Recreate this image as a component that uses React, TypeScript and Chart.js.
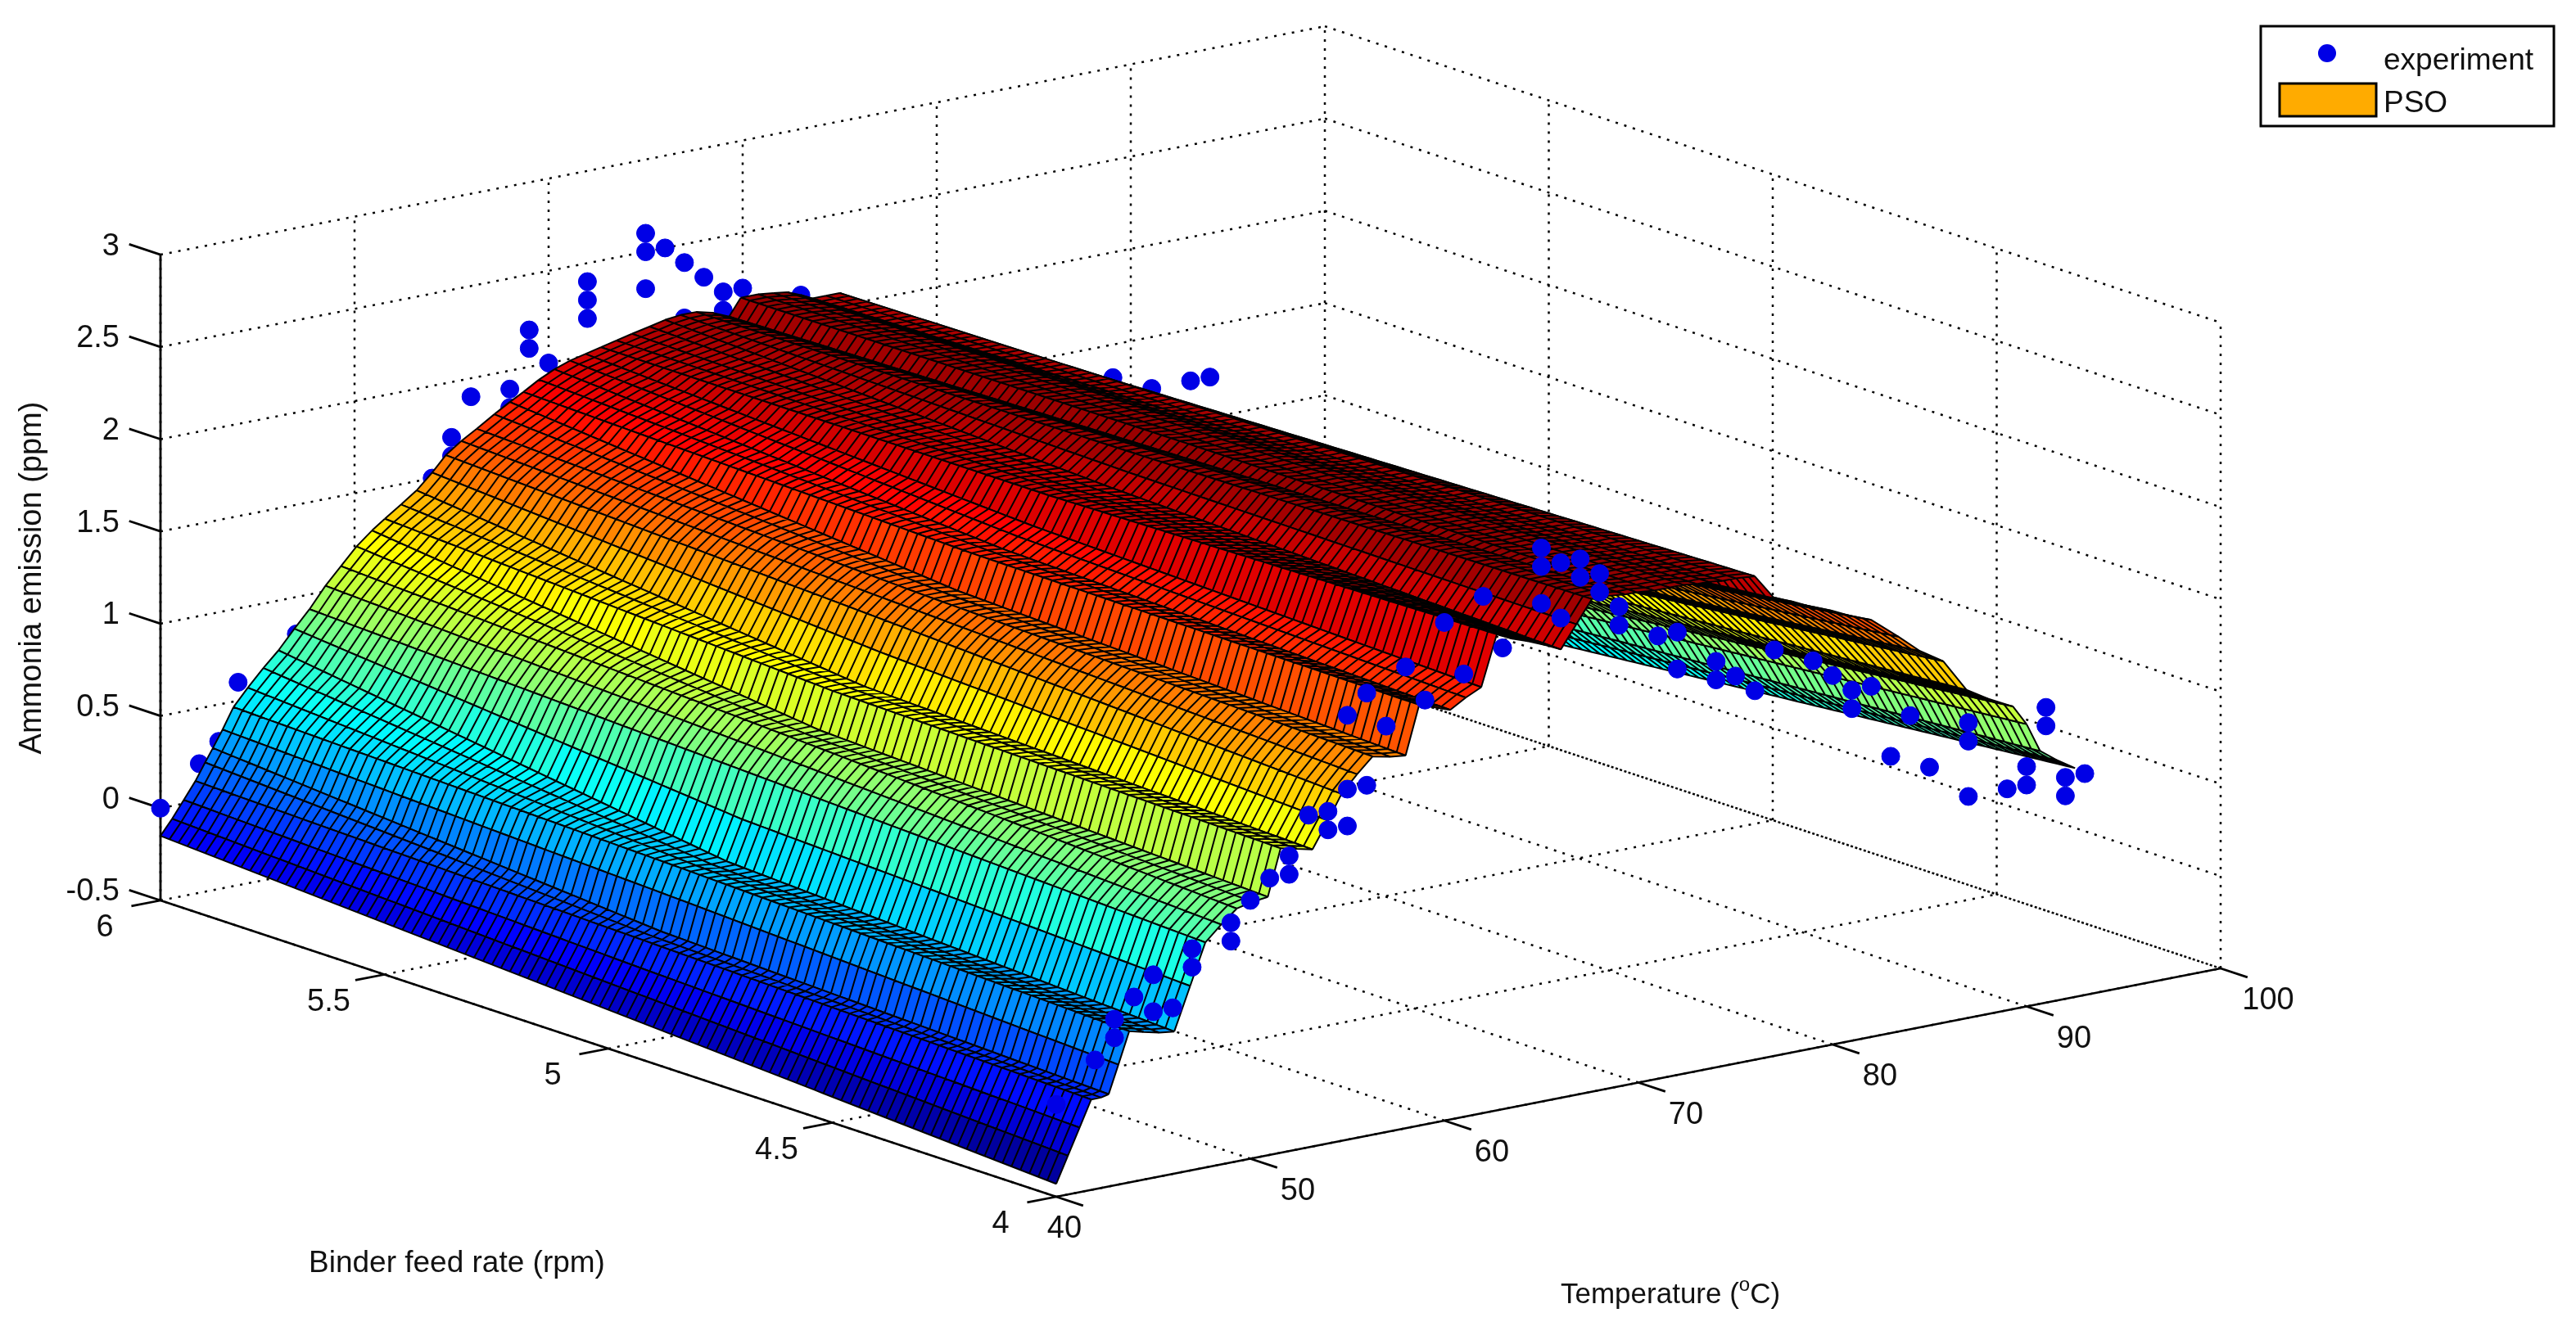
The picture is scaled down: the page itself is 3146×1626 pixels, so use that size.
import React, { useEffect, useRef } from "react";
import { Chart, registerables } from "chart.js";
Chart.register(...registerables);

const WIDTH = 3146;
const HEIGHT = 1626;

// Axis ticks
const tempTicks = [40, 50, 60, 70, 80, 90, 100];
const feedTicks = [4, 4.5, 5, 5.5, 6];
const emissionTicks = [-0.5, 0, 0.5, 1, 1.5, 2, 2.5, 3];

// PSO surface: one row per temperature, read at three feed rates
const rowTemps = [
  40, 40.6, 41.2, 41.8, 42.3, 42.7, 43.2, 43.76, 44.5, 45.3, 46.08, 46.9, 47.68, 48.5, 49.3, 50.1, 50.9,
  51.56, 52.4, 53.2, 54, 54.7, 55.5, 56.3, 57.2, 58, 58.7, 59.5, 60.3, 61.1, 61.9, 62.7, 63.5, 64.3, 65.2,
  66, 66.8, 67.6, 68.4, 69.3, 69.9, 70.8, 71.6, 72.3, 73, 73.6, 74.3, 75, 76, 77, 78, 79, 80, 81, 82, 83.4,
  84.5, 85.7, 86.9, 88, 89.3, 90, 90.7, 91.6, 92.5,
];
const rowsAtFeed6 = [
  -0.15, -0.07, 0.02, 0.11, 0.2, 0.27, 0.36, 0.47, 0.56, 0.65, 0.73, 0.83, 0.92, 1.03, 1.12, 1.21, 1.28,
  1.33, 1.39, 1.45, 1.53, 1.61, 1.67, 1.72, 1.78, 1.83, 1.87, 1.92, 1.96, 1.99, 2.01, 2.03, 2.05, 2.07, 2.09,
  2.11, 2.12, 2.12, 2.1, 2.06, 2.15, 2.15, 2.14, 2.13, 2.1, 2.07, 2.07, 2.07, 2.0, 1.93, 1.85, 1.78, 1.7, 1.62, 1.55, 1.45,
  1.31, 1.16, 1.01, 0.87, 0.69, 0.6, 0.52, 0.41, 0.3,
];
const rowsAtFeed5 = [
  -0.29, -0.18, -0.07, 0.05, 0.06, 0.08, 0.26, 0.4, 0.4, 0.39, 0.39, 0.6, 0.82, 0.92, 1.0, 1.0, 1.0,
  1.2, 1.2, 1.19, 1.36, 1.5, 1.57, 1.62, 1.62, 1.61, 1.8, 1.8, 1.79, 1.84, 1.88, 2.03, 2.03, 2.02, 2.01,
  2.0, 2.07, 2.14, 2.14, 2.11, 2.16, 2.15, 2.15, 2.14, 2.12, 2.11, 2.1, 2.1, 2.06, 1.75, 1.68, 1.6, 1.55, 1.5, 1.44, 1.36,
  1.27, 1.2, 1.1, 1.0, 0.9, 0.82, 0.7, 0.61, 0.52,
];
const rowsAtFeed4 = [
  -0.43, -0.29, -0.15, -0.01, -0.01, 0, 0.15, 0.32, 0.3, 0.28, 0.27, 0.5, 0.72, 0.8, 0.87, 0.89, 0.9,
  1.15, 1.13, 1.11, 1.25, 1.38, 1.47, 1.55, 1.53, 1.52, 1.78, 1.75, 1.72, 1.77, 1.81, 2.08, 2.04, 2.01, 1.97,
  1.93, 2.05, 2.17, 2.17, 2.16, 2.16, 2.15, 2.15, 2.15, 2.14, 2.14, 2.13, 2.13, 2.12, 1.98, 1.94, 1.89, 1.85, 1.8, 1.76, 1.64,
  1.54, 1.46, 1.28, 1.21, 1.14, 1.03, 0.87, 0.8, 0.74,
];

// Experiment points, grouped by feed rate
const expTemp6 = [65, 65, 65, 66, 67, 67, 68, 69, 69, 70, 62, 62, 62, 59, 59, 60, 58, 58, 56, 55, 55, 54, 49, 47, 44, 44, 43, 42, 40, 73];
const expEmission6 = [2.6, 2.5, 2.3, 2.5, 2.4, 2.1, 2.3, 2.2, 2.1, 2.2, 2.4, 2.3, 2.2, 2.2, 2.1, 2.0, 1.9, 1.8, 1.9, 1.7, 1.6, 1.5, 1.0, 0.8, 0.6, 0.4, 0.3, 0.2, 0, 2.1];
const expTemp5 = [66, 68, 70, 71];
const expEmission5 = [2.6, 2.5, 2.5, 2.5];
const expTemp4 = [
  65, 65, 65, 66, 66, 67, 67, 68, 68, 69, 69, 71, 72, 72, 74, 74, 75, 76, 77, 79, 80, 81, 81, 82, 84, 87, 87, 87, 83, 85,
  89, 90, 90, 91, 91, 92, 92, 93, 62, 60, 63, 58, 61, 59, 57, 56, 56, 55, 55, 55, 53, 54, 54, 52, 52, 51, 50, 49, 49, 47,
  47, 45, 45, 44, 46, 43, 43, 42, 40,
];
const expEmission4 = [
  2.5, 2.4, 2.2, 2.4, 2.1, 2.4, 2.3, 2.3, 2.2, 2.1, 2.0, 1.9, 1.9, 1.7, 1.7, 1.6, 1.6, 1.5, 1.7, 1.6, 1.5, 1.4, 1.3, 1.4, 1.2, 1.1, 1.0, 0.7, 1.0, 0.9,
  0.7, 0.8, 0.7, 1.1, 1.0, 0.7, 0.6, 0.7, 2.3, 2.2, 2.0, 2.0, 1.9, 1.8, 1.7, 1.9, 1.4, 1.8, 1.4, 1.2, 1.3, 1.3, 1.2, 1.1, 1.0, 1.0, 0.9, 0.8, 0.7, 0.7,
  0.6, 0.6, 0.4, 0.5, 0.4, 0.4, 0.3, 0.2, 0,
];

const EMISSION_MIN = -0.43;
const EMISSION_MAX = 2.2;
const MESH_CELLS = 100;
const CELLS_PER_FILL = 10;
const BLUE = "#0000e6";
const LABEL_FONT = '"Liberation Sans", Arial, sans-serif';

// Orthographic view of the 3D box, in canvas units
const project = (temp: number, feed: number, emission: number) => ({
  x: 1290 + 23.7 * (temp - 40) - 547 * (feed - 4),
  y: 1462 - 4.65 * (temp - 40) - 181 * (feed - 4) - 225.4 * (emission + 0.5),
});

const GAP = { x: NaN, y: NaN };

const jet = (value: number) => {
  const t = Math.min(1, Math.max(0, (value - EMISSION_MIN) / (EMISSION_MAX - EMISSION_MIN)));
  const band = (c: number) => Math.round(255 * Math.min(1, Math.max(0, 1.5 - Math.abs(4 * t - c))));
  return `rgb(${band(3)},${band(2)},${band(1)})`;
};

const rowEmission = (row: number, feed: number) => {
  if (feed >= 5) return rowsAtFeed5[row] + (rowsAtFeed6[row] - rowsAtFeed5[row]) * (feed - 5);
  return rowsAtFeed4[row] + (rowsAtFeed5[row] - rowsAtFeed4[row]) * (feed - 4);
};

const vertex = (row: number, cell: number) => {
  const feed = 6 - (2 * cell) / MESH_CELLS;
  return project(rowTemps[row], feed, rowEmission(row, feed));
};

const lineLayer = (data: any[], color: string, width: number, dash: number[] = []) => ({
  type: "line" as const,
  data,
  borderColor: color,
  borderWidth: width,
  borderDash: dash,
  pointRadius: 0,
  fill: false,
});

const pointLayer = (label: string, temps: number[], feed: number, values: number[]) => ({
  type: "scatter" as const,
  label,
  data: temps.map((t, i) => project(t, feed, values[i])),
  backgroundColor: BLUE,
  borderColor: BLUE,
  pointRadius: 11,
  pointStyle: "circle",
});

const buildGrid = () => {
  const pts: any[] = [];
  const seg = (a: any, b: any) => pts.push(a, b, GAP);
  tempTicks.forEach((t) => {
    seg(project(t, 4, -0.5), project(t, 6, -0.5));
    seg(project(t, 6, -0.5), project(t, 6, 3));
  });
  feedTicks.forEach((f) => {
    seg(project(40, f, -0.5), project(100, f, -0.5));
    seg(project(100, f, -0.5), project(100, f, 3));
  });
  emissionTicks.forEach((z) => {
    seg(project(40, 6, z), project(100, 6, z));
    seg(project(100, 6, z), project(100, 4, z));
  });
  return pts;
};

const buildAxes = () => {
  const pts: any[] = [];
  const seg = (a: any, b: any) => pts.push(a, b, GAP);
  seg(project(40, 6, -0.5), project(40, 6, 3));
  seg(project(40, 6, -0.5), project(40, 4, -0.5));
  seg(project(40, 4, -0.5), project(100, 4, -0.5));
  emissionTicks.forEach((z) => seg(project(40, 6, z), project(40, 6.07, z)));
  feedTicks.forEach((f) => seg(project(40, f, -0.5), project(38.5, f, -0.5)));
  tempTicks.forEach((t) => seg(project(t, 4, -0.5), project(t, 3.94, -0.5)));
  return pts;
};

// Back to front: the highest temperature row first, and from feed 6 down to feed 4
const buildSurface = () => {
  const layers: any[] = [];
  for (let row = rowTemps.length - 2; row >= 0; row--) {
    for (let cell = 0; cell < MESH_CELLS; cell += CELLS_PER_FILL) {
      const end = cell + CELLS_PER_FILL;
      const feed = 6 - (cell + end) / MESH_CELLS;
      const mean = (rowEmission(row, feed) + rowEmission(row + 1, feed)) / 2;
      layers.push({
        type: "line" as const,
        data: [vertex(row, cell), vertex(row, end), vertex(row + 1, end), vertex(row + 1, cell)],
        borderWidth: 0,
        borderColor: "transparent",
        backgroundColor: jet(mean),
        pointRadius: 0,
        fill: "shape",
      });
    }
    const mesh: any[] = [];
    for (let cell = 0; cell <= MESH_CELLS; cell++) {
      mesh.push(vertex(row, cell), vertex(row + 1, cell), GAP);
    }
    for (let cell = 0; cell <= MESH_CELLS; cell++) mesh.push(vertex(row, cell));
    mesh.push(GAP);
    for (let cell = 0; cell <= MESH_CELLS; cell++) mesh.push(vertex(row + 1, cell));
    layers.push(lineLayer(mesh, "#000000", 2));
  }
  return layers;
};

const labelsPlugin = {
  id: "boxLabels",
  afterDraw(chart: Chart) {
    const ctx = chart.ctx;
    ctx.save();
    ctx.fillStyle = "#111111";
    ctx.textBaseline = "middle";

    ctx.font = `38px ${LABEL_FONT}`;
    ctx.textAlign = "right";
    emissionTicks.forEach((z) => {
      const p = project(40, 6, z);
      ctx.fillText(String(z), p.x - 50, p.y - 10);
    });
    ctx.textAlign = "center";
    feedTicks.forEach((f) => {
      const p = project(40, f, -0.5);
      ctx.fillText(String(f), p.x - 68, p.y + 34);
    });
    tempTicks.forEach((t) => {
      const p = project(t, 4, -0.5);
      ctx.fillText(String(t), p.x + (t === 40 ? 10 : 58), p.y + 40);
    });

    ctx.font = `37px ${LABEL_FONT}`;
    ctx.textAlign = "left";
    ctx.fillText("Binder feed rate (rpm)", 377, 1544);
    ctx.font = `35px ${LABEL_FONT}`;
    ctx.fillText("Temperature (", 1906, 1582);
    const after = 1906 + ctx.measureText("Temperature (").width;
    ctx.font = `24px ${LABEL_FONT}`;
    ctx.fillText("o", after, 1570);
    const next = after + ctx.measureText("o").width;
    ctx.font = `35px ${LABEL_FONT}`;
    ctx.fillText("C)", next, 1582);

    ctx.save();
    ctx.translate(40, 706);
    ctx.rotate(-Math.PI / 2);
    ctx.textAlign = "center";
    ctx.font = `38px ${LABEL_FONT}`;
    ctx.fillText("Ammonia emission (ppm)", 0, 0);
    ctx.restore();

    // legend box
    ctx.fillStyle = "#ffffff";
    ctx.strokeStyle = "#000000";
    ctx.lineWidth = 3;
    ctx.fillRect(2761, 32, 358, 122);
    ctx.strokeRect(2761, 32, 358, 122);
    ctx.fillStyle = BLUE;
    ctx.beginPath();
    ctx.arc(2842, 65, 11, 0, Math.PI * 2);
    ctx.fill();
    ctx.fillStyle = "#ffab00";
    ctx.fillRect(2784, 102, 118, 40);
    ctx.strokeRect(2784, 102, 118, 40);
    ctx.fillStyle = "#111111";
    ctx.font = `37px ${LABEL_FONT}`;
    ctx.textAlign = "left";
    ctx.fillText("experiment", 2911, 75);
    ctx.fillText("PSO", 2911, 127);
    ctx.restore();
  },
};

export default function App() {
  const canvasRef = useRef<HTMLCanvasElement | null>(null);

  useEffect(() => {
    if (!canvasRef.current) return;
    const layers = [
      lineLayer(buildGrid(), "#000000", 2.5, [3, 8]),
      lineLayer(buildAxes(), "#000000", 2.8),
      pointLayer("experiment", expTemp6, 6, expEmission6),
      pointLayer("experiment", expTemp5, 5, expEmission5),
      ...buildSurface(),
      pointLayer("experiment", expTemp4, 4, expEmission4),
    ];
    const chart = new Chart(canvasRef.current, {
      type: "line",
      // Chart.js paints the first dataset on top
      data: { datasets: layers.reverse() as any },
      options: {
        responsive: false,
        animation: false,
        devicePixelRatio: 1,
        events: [],
        layout: { padding: 0, autoPadding: false },
        plugins: { legend: { display: false }, tooltip: { enabled: false } },
        scales: {
          x: { type: "linear", min: 0, max: WIDTH, display: false },
          y: { type: "linear", min: 0, max: HEIGHT, reverse: true, display: false },
        },
      },
      plugins: [labelsPlugin],
    });
    return () => chart.destroy();
  }, []);

  return (
    <div style={{ position: "absolute", left: 0, top: 0, width: WIDTH, height: HEIGHT, background: "#fff" }}>
      <canvas ref={canvasRef} width={WIDTH} height={HEIGHT} />
    </div>
  );
}
